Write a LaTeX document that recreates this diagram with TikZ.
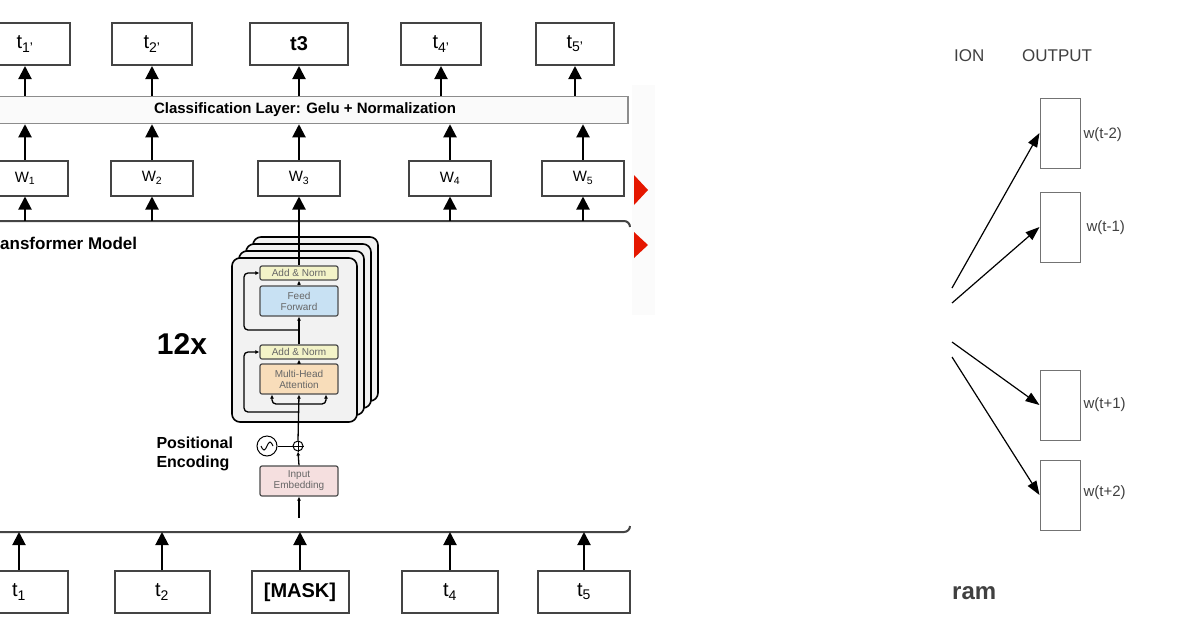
\documentclass[tikz,border=0pt]{standalone}
\usepackage{fontspec}
\setmainfont{Liberation Sans}
\usetikzlibrary{arrows.meta}
\definecolor{an}{HTML}{F3F3C8}
\definecolor{ff}{HTML}{C8E1F3}
\definecolor{mh}{HTML}{F8DDBA}
\definecolor{ie}{HTML}{F5DFDF}
\definecolor{card}{HTML}{F2F2F2}
\definecolor{bx}{HTML}{444444}
\begin{document}
\begin{tikzpicture}[x=1pt,y=-1pt,
  tok/.style={draw=bx,line width=2pt,fill=white,minimum height=42pt,font=\fontsize{20}{21}\selectfont,inner sep=0pt},
  wb/.style={draw=bx,line width=2pt,fill=white,minimum height=35pt,font=\fontsize{15}{16}\selectfont,inner sep=0pt},
  up/.style={line width=2pt,-{Triangle[length=13pt,width=13pt]}},
  inb/.style={draw=black!70,line width=1.2pt,rounded corners=2pt,font=\fontsize{10}{11}\selectfont,text=black!60,align=center,inner sep=0pt,minimum width=78pt},
  thin/.style={line width=1.3pt,-{Latex[length=4pt,width=4pt]}},
  ob/.style={draw=black!55,line width=1pt,minimum width=40pt,minimum height=70pt,inner sep=0pt},
  ol/.style={font=\fontsize{15}{16}\selectfont,text=black!75,anchor=west},
  sk/.style={line width=1.2pt,-{Triangle[length=14pt,width=10pt]}}]
\useasboundingbox (0,0) rectangle (1200,630);
\fill[white] (0,0) rectangle (1200,630);
\fill[black!1.5] (632,85) rectangle (655,315);
% top tokens
\node[tok,minimum width=90pt] (o1) at (25,44) {t\textsubscript{1'}};
\node[tok,minimum width=80pt] (o2) at (152,44) {t\textsubscript{2'}};
\node[tok,minimum width=98pt] (o3) at (299,44) {\textbf{t3}};
\node[tok,minimum width=80pt] (o4) at (441,44) {t\textsubscript{4'}};
\node[tok,minimum width=78pt] (o5) at (575,44) {t\textsubscript{5'}};
% classification layer
\node[draw=black!45,line width=1.5pt,fill=black!2,minimum width=660pt,minimum height=27pt,inner sep=0pt] (cl) at (298,110) {};
\node[font=\fontsize{15}{16}\selectfont\bfseries] (clt) at (305,110) {Classification Layer: Gelu + Normalization};
% W boxes
\node[wb,minimum width=86pt] (w1) at (25,178) {W\textsubscript{1}};
\node[wb,minimum width=82pt] (w2) at (152,178) {W\textsubscript{2}};
\node[wb,minimum width=82pt] (w3) at (299,178) {W\textsubscript{3}};
\node[wb,minimum width=82pt] (w4) at (450,178) {W\textsubscript{4}};
\node[wb,minimum width=82pt] (w5) at (583,178) {W\textsubscript{5}};
% bottom tokens
\node[tok,minimum width=98pt] (i1) at (19,592) {t\textsubscript{1}};
\node[tok,minimum width=95pt] (i2) at (162,592) {t\textsubscript{2}};
\node[tok,minimum width=97pt] (i3) at (300,592) {\textbf{[MASK]}};
\node[tok,minimum width=96pt] (i4) at (450,592) {t\textsubscript{4}};
\node[tok,minimum width=92pt] (i5) at (584,592) {t\textsubscript{5}};
% transformer box
\draw[draw=bx,line width=2pt] (-5,221) -- (624,221) arc[start angle=-90,end angle=0,radius=6];
\draw[draw=bx,line width=2pt] (-5,532) -- (624,532) arc[start angle=90,end angle=0,radius=6];
\coordinate (tb) at (0,221);
\coordinate (bb) at (0,532);
\node[font=\fontsize{17}{18}\selectfont\bfseries,anchor=west,inner sep=0pt] (tm) at (0,243) {ansformer Model};
% arrows
\foreach \i in {1,...,5}{
  \draw[up] (w\i.north) -- (w\i.north |- cl.south);
  \draw[up] (o\i.south |- cl.north) -- (o\i.south);
  \draw[up] (w\i.south |- tb) -- (w\i.south);
  \draw[up] (i\i.north) -- (i\i.north |- bb);
}
% stack of cards
\foreach \d in {21,14,7}{
  \draw[line width=1.6pt,fill=card,rounded corners=8pt] (232+\d,258-\d) rectangle (357+\d,422-\d);
}
\node[draw,line width=1.6pt,fill=card,rounded corners=8pt,minimum width=125pt,minimum height=164pt,inner sep=0pt] (card) at (294.5,340) {};
\node[inb,fill=an,minimum height=14pt] (an2) at (299,273) {Add \& Norm};
\node[inb,fill=ff,minimum height=30pt] (ffn) at (299,301) {Feed\\Forward};
\node[inb,fill=an,minimum height=14pt] (an1) at (299,352) {Add \& Norm};
\node[inb,fill=mh,minimum height=30pt] (mha) at (299,379) {Multi-Head\\Attention};
\node[inb,fill=ie,minimum height=30pt] (emb) at (299,481) {Input\\Embedding};
\node[draw,line width=1pt,circle,minimum size=20pt,inner sep=0pt] (pe) at (267,446) {};
\draw[line width=1pt] ([xshift=-6pt]pe.center) sin ([xshift=-3pt,yshift=-4pt]pe.center) cos (pe.center) sin ([xshift=3pt,yshift=4pt]pe.center) cos ([xshift=6pt]pe.center);
\node[draw,line width=1pt,circle,minimum size=10pt,inner sep=0pt] (pl) at (298,446) {};
\draw[line width=0.8pt] (pl.north)--(pl.south) (pl.west)--(pl.east);
\draw[line width=1pt] (pe.east) -- (pl.west);
\coordinate (bin) at (299,518);
\draw[thin] (bin) -- (emb.south);
\draw[thin] (emb.north) -- (pl.south);
\draw[thin] (pl.north) -- (mha.south);
\draw[line width=1.3pt] (299,221) -- (an2.north);
\draw[thin] (mha.north) -- (an1.south);
\draw[thin] (an1.north) -- (ffn.south);
\draw[thin] (ffn.north) -- (an2.south);
\draw[line width=1.3pt,-{Latex[length=4pt,width=4pt]},rounded corners=4pt] (299,404) -- (272,404) -- (mha.south -| 272,0);
\draw[line width=1.3pt,-{Latex[length=4pt,width=4pt]},rounded corners=4pt] (299,404) -- (326,404) -- (mha.south -| 326,0);
\draw[line width=1.3pt,-{Latex[length=4pt,width=4pt]},rounded corners=4pt] (299,412) -- (244,412) -- (244,352) -- (an1.west);
\draw[line width=1.3pt,-{Latex[length=4pt,width=4pt]},rounded corners=4pt] (299,330) -- (244,330) -- (244,273) -- (an2.west);
\node[font=\fontsize{30}{32}\selectfont\bfseries] at (182,344) {12x};
\node[font=\fontsize{16}{19}\selectfont\bfseries,align=left,anchor=west] at (153,454) {Positional\\Encoding};
% red triangles
\fill[red!80!orange!90!black] (634,175) -- (648,190) -- (634,205) -- cycle;
\fill[red!80!orange!90!black] (634,232) -- (648,245) -- (634,258) -- cycle;
% skip-gram panel
\node[font=\fontsize{17}{18}\selectfont,text=black!75,anchor=west,inner sep=0pt] at (954,56) {ION};
\node[font=\fontsize{17}{18}\selectfont,text=black!75,anchor=west,inner sep=0pt] at (1022,56) {OUTPUT};
\node[ob] (y1) at (1060,133) {};
\node[ob] (y2) at (1060,227) {};
\node[ob] (y3) at (1060,405) {};
\node[ob] (y4) at (1060,495) {};
\node[ol] at (1080,135) {w(t-2)};
\node[ol] at (1083,228) {w(t-1)};
\node[ol] at (1080,405) {w(t+1)};
\node[ol] at (1080,493) {w(t+2)};
\coordinate (s1) at (952,288);
\coordinate (s2) at (952,303);
\coordinate (s3) at (952,342);
\coordinate (s4) at (952,357);
\draw[sk] (s1) -- (y1.west);
\draw[sk] (s2) -- (y2.west);
\draw[sk] (s3) -- (y3.west);
\draw[sk] (s4) -- (y4.west);
\node[font=\fontsize{24}{26}\selectfont\bfseries,text=black!75,anchor=west,inner sep=0pt] at (952,593) {ram};
\end{tikzpicture}
\end{document}
